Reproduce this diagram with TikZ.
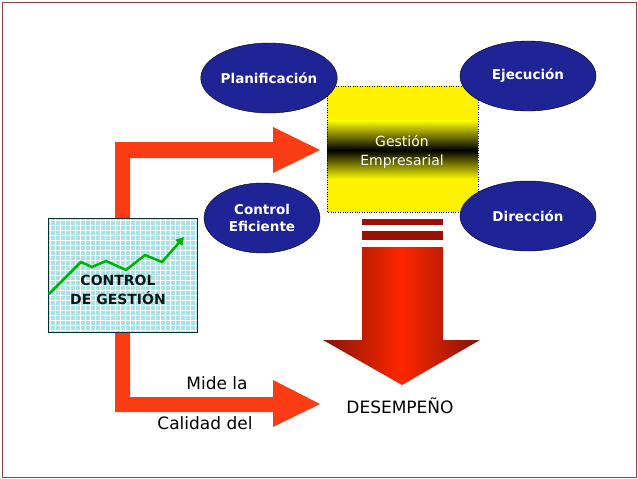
\documentclass[tikz,border=0pt]{standalone}
\usepackage{fontspec}
\setmainfont{DejaVu Sans}
\usetikzlibrary{shapes.geometric,arrows.meta}
\definecolor{navy}{RGB}{30,35,150}
\definecolor{redo}{RGB}{250,60,20}
\definecolor{darkr}{RGB}{130,20,5}
\definecolor{cyanb}{RGB}{170,225,230}
\tikzset{oval/.style={ellipse,draw=black,fill=navy,text=white,font=\bfseries\fontsize{13.5}{17}\selectfont,align=center,minimum width=128pt,minimum height=70pt,inner sep=0pt},
redar/.style={fill=redo,draw=none},
lbl/.style={font=\fontsize{17}{20}\selectfont,inner sep=0pt}}
\begin{document}
\begin{tikzpicture}[x=1pt,y=-1pt]
\useasboundingbox (0,0) rectangle (638,479);
\draw[draw={rgb,255:red,140;green,70;blue,60},line width=1pt] (2,2) rectangle (636,477);
% arrows red
\fill[redar] (115,218) -- (115,142) -- (273,142) -- (273,127) -- (320,150) -- (273,173) -- (273,158) -- (130,158) -- (130,218) -- cycle;
\fill[redar] (115,332) -- (115,412) -- (273,412) -- (273,427) -- (320,404) -- (273,380) -- (273,397) -- (130,397) -- (130,332) -- cycle;
% square
\fill[yellow] (327,86) rectangle (478,120);
\shade[top color=yellow,bottom color=black] (327,120) rectangle (478,150);
\shade[top color=black,bottom color=yellow] (327,150) rectangle (478,180);
\fill[yellow] (327,180) rectangle (478,212);
\draw[dotted,black] (327,86) rectangle (478,212);
\node[font=\fontsize{14}{19}\selectfont,text=white,align=center] (ge) at (402,152) {Gestión\\Empresarial};
% ellipses
\node[oval] (pl) at (269,78) {Planificación};
\node[oval,minimum width=136pt] (ej) at (528,76) {Ejecución};
\node[oval,minimum width=116pt] (ce) at (262,218) {Control\\Eficiente};
\node[oval,minimum width=136pt] (di) at (528,216) {Dirección};
% bars and down arrow
\fill[darkr!80!red] (362,219) rectangle (443,225);
\fill[darkr!80!red] (362,231) rectangle (443,240);
\shade[left color=darkr,right color=darkr,middle color=red!70!orange] (362,247) -- (443,247) -- (443,340) -- (480,340) -- (402,385) -- (323,340) -- (362,340) -- cycle;
% box
\fill[cyanb] (48,218) rectangle (197,332);
\draw[white,step=5pt,line width=0.8pt] (48,218) grid (197,332);
\draw[black!60!teal,line width=1pt] (48,218) rectangle (197,332);
\draw[green!70!black,line width=2.5pt,-{Triangle[length=8pt,width=9pt]}] (49,294) -- (81,262) -- (92,267) -- (106,261) -- (126,270) -- (145,255) -- (162,262) -- (184,237);
\node[font=\bfseries\fontsize{14}{19}\selectfont,text=black!80!teal,align=center] (cg) at (118,290) {CONTROL\\DE GESTIÓN};
% texts
\node[lbl] (m) at (217,383) {Mide la};
\node[lbl] (c) at (205,423) {Calidad del};
\node[lbl] (d) at (400,406) {DESEMPEÑO};
\end{tikzpicture}
\end{document}
